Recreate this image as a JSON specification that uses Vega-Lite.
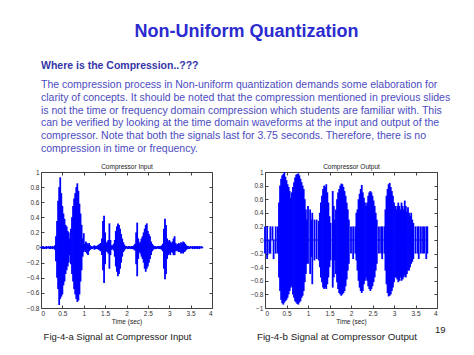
{
  "$schema": "https://vega.github.io/schema/vega-lite/v6.json",
  "background": "white",
  "padding": {"left": 26, "top": 22, "right": 0, "bottom": 0},
  "config": {
    "font": "Liberation Sans",
    "view": {"stroke": null},
    "axis": {
      "grid": false,
      "domainColor": "#404040",
      "tickColor": "#404040",
      "tickSize": -3,
      "labelPadding": 5,
      "labelFontSize": 6.5,
      "labelColor": "#333333",
      "labelFont": "Liberation Sans",
      "titleFontSize": 6.5,
      "titleFontWeight": "normal",
      "titleColor": "#222222",
      "titleFont": "Liberation Sans",
      "titlePadding": 2,
      "format": "~g"
    }
  },
  "title": {"text": "Non-Uniform Quantization", "fontSize": 18, "fontWeight": "bold", "color": "#2b2bd0", "anchor": "middle", "offset": 20, "dx": 7},
  "spacing": 8,
  "vconcat": [
    {
      "width": 412,
      "height": 76,
      "title": {"text": "Where is the Compression..???", "anchor": "start", "fontSize": 10.5, "fontWeight": "bold", "color": "#3535a8", "offset": 8},
      "data": {"values": [
        {"line": 1, "text": "The compression process in Non-uniform quantization demands some elaboration for"},
        {"line": 2, "text": "clarity of concepts. It should be noted that the compression mentioned in previous slides"},
        {"line": 3, "text": "is not the time or frequency domain compression which students are familiar with. This"},
        {"line": 4, "text": "can be verified by looking at the time domain waveforms at the input and output of the"},
        {"line": 5, "text": "compressor. Note that both the signals last for 3.75 seconds. Therefore, there is no"},
        {"line": 6, "text": "compression in time or frequency."}
      ]},
      "mark": {"type": "text", "align": "left", "baseline": "middle", "fontSize": 10.5, "color": "#4b4bc0"},
      "encoding": {
        "y": {"field": "line", "type": "ordinal", "axis": null},
        "x": {"datum": 0, "type": "quantitative", "scale": {"domain": [0, 1]}, "axis": null},
        "text": {"field": "text", "type": "nominal"}
      }
    },
    {
      "spacing": 37,
      "title": {"text": "19", "orient": "bottom", "anchor": "end", "fontSize": 9.5, "fontWeight": "normal", "color": "#222222", "offset": -17, "dx": 8},
      "hconcat": [
        {
          "width": 171,
          "height": 136,
          "title": {"text": "Fig-4-a Signal at Compressor Input", "orient": "bottom", "anchor": "middle", "fontSize": 9.5, "fontWeight": "normal", "color": "#222222", "offset": 7, "dx": -9},
          "data": {"values": [
            {"t":0.000,"hi":0.01,"lo":-0.01},{"t":0.025,"hi":0.01,"lo":-0.01},{"t":0.050,"hi":0.02,"lo":-0.01},{"t":0.075,"hi":0.01,"lo":-0.02},
            {"t":0.100,"hi":0.01,"lo":-0.01},{"t":0.125,"hi":0.02,"lo":-0.02},{"t":0.150,"hi":0.01,"lo":-0.01},{"t":0.175,"hi":0.02,"lo":-0.01},
            {"t":0.200,"hi":0.01,"lo":-0.02},{"t":0.225,"hi":0.02,"lo":-0.02},{"t":0.250,"hi":0.01,"lo":-0.01},{"t":0.275,"hi":0.02,"lo":-0.02},
            {"t":0.300,"hi":0.01,"lo":-0.01},{"t":0.325,"hi":0.03,"lo":-0.03},{"t":0.350,"hi":0.15,"lo":-0.18},{"t":0.375,"hi":0.35,"lo":-0.40},
            {"t":0.400,"hi":0.62,"lo":-0.55},{"t":0.425,"hi":0.80,"lo":-0.76},{"t":0.450,"hi":0.93,"lo":-0.68},{"t":0.475,"hi":0.72,"lo":-0.65},
            {"t":0.500,"hi":0.55,"lo":-0.62},{"t":0.525,"hi":0.45,"lo":-0.50},{"t":0.550,"hi":0.38,"lo":-0.45},{"t":0.575,"hi":0.30,"lo":-0.35},
            {"t":0.600,"hi":0.28,"lo":-0.30},{"t":0.625,"hi":0.22,"lo":-0.25},{"t":0.650,"hi":0.20,"lo":-0.20},{"t":0.675,"hi":0.12,"lo":-0.10},
            {"t":0.700,"hi":0.25,"lo":-0.22},{"t":0.725,"hi":0.40,"lo":-0.35},{"t":0.750,"hi":0.55,"lo":-0.45},{"t":0.775,"hi":0.65,"lo":-0.55},
            {"t":0.800,"hi":0.72,"lo":-0.62},{"t":0.825,"hi":0.80,"lo":-0.68},{"t":0.850,"hi":0.85,"lo":-0.72},{"t":0.875,"hi":0.75,"lo":-0.70},
            {"t":0.900,"hi":0.58,"lo":-0.62},{"t":0.925,"hi":0.45,"lo":-0.45},{"t":0.950,"hi":0.30,"lo":-0.30},{"t":0.975,"hi":0.12,"lo":-0.12},
            {"t":1.000,"hi":0.19,"lo":-0.06},{"t":1.025,"hi":0.05,"lo":-0.04},{"t":1.050,"hi":0.08,"lo":-0.06},{"t":1.075,"hi":0.06,"lo":-0.08},
            {"t":1.100,"hi":0.04,"lo":-0.10},{"t":1.125,"hi":0.06,"lo":-0.05},{"t":1.150,"hi":0.03,"lo":-0.03},{"t":1.175,"hi":0.02,"lo":-0.02},
            {"t":1.200,"hi":0.01,"lo":-0.02},{"t":1.225,"hi":0.02,"lo":-0.01},{"t":1.250,"hi":0.03,"lo":-0.03},{"t":1.275,"hi":0.02,"lo":-0.02},
            {"t":1.300,"hi":0.02,"lo":-0.02},{"t":1.325,"hi":0.03,"lo":-0.02},{"t":1.350,"hi":0.04,"lo":-0.03},{"t":1.375,"hi":0.05,"lo":-0.04},
            {"t":1.400,"hi":0.06,"lo":-0.05},{"t":1.425,"hi":0.12,"lo":-0.10},{"t":1.450,"hi":0.35,"lo":-0.30},{"t":1.475,"hi":0.42,"lo":-0.47},
            {"t":1.500,"hi":0.20,"lo":-0.22},{"t":1.525,"hi":0.06,"lo":-0.05},{"t":1.550,"hi":0.08,"lo":-0.06},{"t":1.575,"hi":0.10,"lo":-0.08},
            {"t":1.600,"hi":0.32,"lo":-0.28},{"t":1.625,"hi":0.10,"lo":-0.10},{"t":1.650,"hi":0.03,"lo":-0.03},{"t":1.675,"hi":0.03,"lo":-0.02},
            {"t":1.700,"hi":0.05,"lo":-0.04},{"t":1.725,"hi":0.10,"lo":-0.12},{"t":1.750,"hi":0.22,"lo":-0.25},{"t":1.775,"hi":0.28,"lo":-0.32},
            {"t":1.800,"hi":0.32,"lo":-0.38},{"t":1.825,"hi":0.30,"lo":-0.35},{"t":1.850,"hi":0.25,"lo":-0.28},{"t":1.875,"hi":0.18,"lo":-0.20},
            {"t":1.900,"hi":0.12,"lo":-0.12},{"t":1.925,"hi":0.07,"lo":-0.06},{"t":1.950,"hi":0.04,"lo":-0.04},{"t":1.975,"hi":0.02,"lo":-0.02},
            {"t":2.000,"hi":0.02,"lo":-0.01},{"t":2.025,"hi":0.01,"lo":-0.02},{"t":2.050,"hi":0.02,"lo":-0.02},{"t":2.075,"hi":0.02,"lo":-0.01},
            {"t":2.100,"hi":0.01,"lo":-0.02},{"t":2.125,"hi":0.02,"lo":-0.02},{"t":2.150,"hi":0.02,"lo":-0.02},{"t":2.175,"hi":0.03,"lo":-0.03},
            {"t":2.200,"hi":0.05,"lo":-0.04},{"t":2.225,"hi":0.20,"lo":-0.22},{"t":2.250,"hi":0.33,"lo":-0.38},{"t":2.275,"hi":0.12,"lo":-0.15},
            {"t":2.300,"hi":0.06,"lo":-0.06},{"t":2.325,"hi":0.08,"lo":-0.08},{"t":2.350,"hi":0.12,"lo":-0.12},{"t":2.375,"hi":0.15,"lo":-0.15},
            {"t":2.400,"hi":0.20,"lo":-0.20},{"t":2.425,"hi":0.25,"lo":-0.28},{"t":2.450,"hi":0.30,"lo":-0.32},{"t":2.475,"hi":0.32,"lo":-0.28},
            {"t":2.500,"hi":0.22,"lo":-0.25},{"t":2.525,"hi":0.18,"lo":-0.20},{"t":2.550,"hi":0.15,"lo":-0.15},{"t":2.575,"hi":0.08,"lo":-0.10},
            {"t":2.600,"hi":0.05,"lo":-0.05},{"t":2.625,"hi":0.03,"lo":-0.03},{"t":2.650,"hi":0.02,"lo":-0.02},{"t":2.675,"hi":0.02,"lo":-0.02},
            {"t":2.700,"hi":0.01,"lo":-0.02},{"t":2.725,"hi":0.02,"lo":-0.01},{"t":2.750,"hi":0.02,"lo":-0.02},{"t":2.775,"hi":0.02,"lo":-0.02},
            {"t":2.800,"hi":0.02,"lo":-0.02},{"t":2.825,"hi":0.03,"lo":-0.03},{"t":2.850,"hi":0.05,"lo":-0.05},{"t":2.875,"hi":0.25,"lo":-0.28},
            {"t":2.900,"hi":0.38,"lo":-0.42},{"t":2.925,"hi":0.30,"lo":-0.35},{"t":2.950,"hi":0.12,"lo":-0.15},{"t":2.975,"hi":0.08,"lo":-0.10},
            {"t":3.000,"hi":0.10,"lo":-0.08},{"t":3.025,"hi":0.08,"lo":-0.10},{"t":3.050,"hi":0.06,"lo":-0.06},{"t":3.075,"hi":0.08,"lo":-0.07},
            {"t":3.100,"hi":0.12,"lo":-0.10},{"t":3.125,"hi":0.15,"lo":-0.10},{"t":3.150,"hi":0.06,"lo":-0.05},{"t":3.175,"hi":0.04,"lo":-0.04},
            {"t":3.200,"hi":0.05,"lo":-0.05},{"t":3.225,"hi":0.06,"lo":-0.06},{"t":3.250,"hi":0.05,"lo":-0.06},{"t":3.275,"hi":0.07,"lo":-0.08},
            {"t":3.300,"hi":0.06,"lo":-0.07},{"t":3.325,"hi":0.08,"lo":-0.08},{"t":3.350,"hi":0.07,"lo":-0.06},{"t":3.375,"hi":0.05,"lo":-0.05},
            {"t":3.400,"hi":0.03,"lo":-0.03},{"t":3.425,"hi":0.02,"lo":-0.02},{"t":3.450,"hi":0.02,"lo":-0.02},{"t":3.475,"hi":0.01,"lo":-0.02},
            {"t":3.500,"hi":0.02,"lo":-0.01},{"t":3.525,"hi":0.01,"lo":-0.01},{"t":3.550,"hi":0.02,"lo":-0.02},{"t":3.575,"hi":0.01,"lo":-0.01},
            {"t":3.600,"hi":0.02,"lo":-0.02},{"t":3.625,"hi":0.01,"lo":-0.01},{"t":3.650,"hi":0.02,"lo":-0.02},{"t":3.675,"hi":0.01,"lo":-0.01},
            {"t":3.700,"hi":0.02,"lo":-0.02},{"t":3.725,"hi":0.01,"lo":-0.01},{"t":3.750,"hi":0.02,"lo":-0.01},{"t":3.775,"hi":0.01,"lo":-0.01}
          ]},
          "layer": [
            {
              "mark": {"type": "rule", "color": "#0000ff", "strokeWidth": 1.8},
              "encoding": {
                "x": {"field": "t", "type": "quantitative", "scale": {"domain": [0, 4], "nice": false, "zero": false},
                      "axis": {"orient": "bottom", "title": "Time  (sec)", "values": [0, 0.5, 1, 1.5, 2, 2.5, 3, 3.5, 4]}},
                "y": {"field": "hi", "type": "quantitative", "scale": {"domain": [-0.8, 1], "nice": false},
                      "axis": {"orient": "left", "title": null, "values": [-0.8, -0.6, -0.4, -0.2, 0, 0.2, 0.4, 0.6, 0.8, 1]}},
                "y2": {"field": "lo"}
              }
            },
            {
              "mark": {"type": "rule", "color": "#0000ff", "strokeWidth": 1},
              "encoding": {
                "x": {"aggregate": "min", "field": "t", "type": "quantitative", "scale": {"domain": [0, 4], "nice": false, "zero": false},
                      "axis": {"orient": "top", "labels": false, "title": "Compressor Input", "values": [0, 0.5, 1, 1.5, 2, 2.5, 3, 3.5, 4]}},
                "x2": {"aggregate": "max", "field": "t"},
                "y": {"datum": 0, "type": "quantitative", "scale": {"domain": [-0.8, 1], "nice": false},
                      "axis": {"orient": "right", "labels": false, "title": null, "values": [-0.8, -0.6, -0.4, -0.2, 0, 0.2, 0.4, 0.6, 0.8, 1]}}
              }
            }
          ],
          "resolve": {"axis": {"x": "independent", "y": "independent"}}
        },
        {
          "width": 172,
          "height": 136,
          "title": {"text": "Fig-4-b Signal at Compressor Output", "orient": "bottom", "anchor": "middle", "fontSize": 9.8, "fontWeight": "normal", "color": "#222222", "offset": 7, "dx": -14},
          "data": {"values": [
            {"t":0.000,"hi":0.2,"lo":-0.2},{"t":0.050,"hi":0.2,"lo":-0.28},{"t":0.100,"hi":0.0,"lo":-0.2},{"t":0.125,"hi":0.2,"lo":-0.2},
            {"t":0.175,"hi":0.2,"lo":0.0},{"t":0.200,"hi":0.0,"lo":-0.28},{"t":0.250,"hi":0.2,"lo":-0.2},{"t":0.300,"hi":0.2,"lo":-0.2},
            {"t":0.325,"hi":0.55,"lo":-0.55},{"t":0.350,"hi":0.80,"lo":-0.75},{"t":0.375,"hi":0.90,"lo":-0.88},{"t":0.400,"hi":0.95,"lo":-0.93},
            {"t":0.425,"hi":0.97,"lo":-0.95},{"t":0.450,"hi":1.00,"lo":-0.92},{"t":0.475,"hi":0.93,"lo":-0.90},{"t":0.500,"hi":0.88,"lo":-0.88},
            {"t":0.525,"hi":0.82,"lo":-0.85},{"t":0.550,"hi":0.78,"lo":-0.80},{"t":0.575,"hi":0.72,"lo":-0.75},{"t":0.600,"hi":0.62,"lo":-0.70},
            {"t":0.625,"hi":0.70,"lo":-0.68},{"t":0.650,"hi":0.78,"lo":-0.80},{"t":0.675,"hi":0.85,"lo":-0.85},{"t":0.700,"hi":0.92,"lo":-0.90},
            {"t":0.725,"hi":0.96,"lo":-0.92},{"t":0.750,"hi":0.97,"lo":-0.94},{"t":0.775,"hi":0.98,"lo":-0.95},{"t":0.800,"hi":0.95,"lo":-0.92},
            {"t":0.825,"hi":0.90,"lo":-0.90},{"t":0.850,"hi":0.85,"lo":-0.85},{"t":0.875,"hi":0.80,"lo":-0.82},{"t":0.900,"hi":0.75,"lo":-0.75},
            {"t":0.925,"hi":0.60,"lo":-0.62},{"t":0.950,"hi":0.45,"lo":-0.50},{"t":0.975,"hi":0.30,"lo":-0.35},
            {"t":1.000,"hi":0.50,"lo":-0.35},{"t":1.050,"hi":0.45,"lo":-0.50},{"t":1.075,"hi":0.30,"lo":-0.25},{"t":1.100,"hi":0.40,"lo":-0.65},
            {"t":1.150,"hi":0.30,"lo":-0.30},{"t":1.200,"hi":0.30,"lo":-0.28},{"t":1.250,"hi":0.28,"lo":-0.30},
            {"t":1.275,"hi":0.40,"lo":-0.40},{"t":1.300,"hi":0.55,"lo":-0.55},{"t":1.325,"hi":0.65,"lo":-0.62},{"t":1.350,"hi":0.75,"lo":-0.70},
            {"t":1.375,"hi":0.80,"lo":-0.72},{"t":1.400,"hi":0.78,"lo":-0.70},{"t":1.425,"hi":0.82,"lo":-0.72},{"t":1.450,"hi":0.70,"lo":-0.65},
            {"t":1.475,"hi":0.55,"lo":-0.55},{"t":1.500,"hi":0.35,"lo":-0.40},
            {"t":1.525,"hi":0.25,"lo":-0.30},{"t":1.575,"hi":0.72,"lo":-0.70},{"t":1.600,"hi":0.50,"lo":-0.55},{"t":1.625,"hi":0.30,"lo":-0.30},
            {"t":1.650,"hi":0.45,"lo":-0.50},{"t":1.675,"hi":0.60,"lo":-0.62},{"t":1.700,"hi":0.70,"lo":-0.72},{"t":1.725,"hi":0.75,"lo":-0.78},
            {"t":1.750,"hi":0.80,"lo":-0.80},{"t":1.775,"hi":0.83,"lo":-0.82},{"t":1.800,"hi":0.82,"lo":-0.80},{"t":1.825,"hi":0.78,"lo":-0.78},
            {"t":1.850,"hi":0.72,"lo":-0.75},{"t":1.875,"hi":0.65,"lo":-0.68},{"t":1.900,"hi":0.55,"lo":-0.58},{"t":1.925,"hi":0.45,"lo":-0.45},
            {"t":1.950,"hi":0.30,"lo":-0.35},
            {"t":2.000,"hi":0.2,"lo":-0.2},{"t":2.050,"hi":0.2,"lo":-0.28},{"t":2.100,"hi":0.2,"lo":-0.2},{"t":2.125,"hi":0.4,"lo":-0.3},
            {"t":2.150,"hi":0.45,"lo":-0.45},{"t":2.175,"hi":0.60,"lo":-0.60},{"t":2.200,"hi":0.68,"lo":-0.70},{"t":2.225,"hi":0.75,"lo":-0.75},
            {"t":2.250,"hi":0.81,"lo":-0.78},{"t":2.275,"hi":0.70,"lo":-0.75},{"t":2.300,"hi":0.62,"lo":-0.65},{"t":2.325,"hi":0.55,"lo":-0.60},
            {"t":2.350,"hi":0.50,"lo":-0.55},{"t":2.375,"hi":0.55,"lo":-0.60},{"t":2.400,"hi":0.65,"lo":-0.68},{"t":2.425,"hi":0.70,"lo":-0.72},
            {"t":2.450,"hi":0.72,"lo":-0.75},{"t":2.475,"hi":0.70,"lo":-0.72},{"t":2.500,"hi":0.65,"lo":-0.68},{"t":2.525,"hi":0.58,"lo":-0.62},
            {"t":2.550,"hi":0.50,"lo":-0.55},{"t":2.575,"hi":0.40,"lo":-0.45},{"t":2.600,"hi":0.30,"lo":-0.35},
            {"t":2.650,"hi":0.2,"lo":-0.2},{"t":2.700,"hi":0.2,"lo":-0.2},{"t":2.725,"hi":0.2,"lo":-0.28},{"t":2.775,"hi":0.2,"lo":-0.2},
            {"t":2.800,"hi":0.45,"lo":-0.45},{"t":2.825,"hi":0.65,"lo":-0.65},{"t":2.850,"hi":0.75,"lo":-0.78},{"t":2.875,"hi":0.82,"lo":-0.83},
            {"t":2.900,"hi":0.84,"lo":-0.82},{"t":2.925,"hi":0.78,"lo":-0.80},{"t":2.950,"hi":0.72,"lo":-0.75},{"t":2.975,"hi":0.65,"lo":-0.70},
            {"t":3.000,"hi":0.55,"lo":-0.62},{"t":3.025,"hi":0.50,"lo":-0.55},{"t":3.050,"hi":0.45,"lo":-0.55},{"t":3.075,"hi":0.50,"lo":-0.58},
            {"t":3.100,"hi":0.55,"lo":-0.62},{"t":3.125,"hi":0.50,"lo":-0.60},{"t":3.150,"hi":0.45,"lo":-0.55},{"t":3.175,"hi":0.55,"lo":-0.60},
            {"t":3.200,"hi":0.50,"lo":-0.58},{"t":3.225,"hi":0.45,"lo":-0.55},{"t":3.250,"hi":0.58,"lo":-0.52},{"t":3.275,"hi":0.50,"lo":-0.55},
            {"t":3.300,"hi":0.42,"lo":-0.50},{"t":3.325,"hi":0.48,"lo":-0.45},{"t":3.350,"hi":0.40,"lo":-0.45},{"t":3.375,"hi":0.35,"lo":-0.40},
            {"t":3.400,"hi":0.40,"lo":-0.35},{"t":3.425,"hi":0.30,"lo":-0.32},{"t":3.450,"hi":0.25,"lo":-0.28},
            {"t":3.500,"hi":0.2,"lo":-0.2},{"t":3.550,"hi":0.2,"lo":-0.2},{"t":3.575,"hi":0.2,"lo":-0.28},{"t":3.625,"hi":0.2,"lo":-0.2},
            {"t":3.675,"hi":0.2,"lo":-0.2},{"t":3.700,"hi":0.2,"lo":-0.2},{"t":3.750,"hi":0.2,"lo":-0.28},{"t":3.775,"hi":0.2,"lo":-0.2}
          ]},
          "layer": [
            {
              "mark": {"type": "rule", "color": "#0000ff", "strokeWidth": 1.8},
              "encoding": {
                "x": {"field": "t", "type": "quantitative", "scale": {"domain": [0, 4], "nice": false, "zero": false},
                      "axis": {"orient": "bottom", "title": "Time  (sec)", "values": [0, 0.5, 1, 1.5, 2, 2.5, 3, 3.5, 4]}},
                "y": {"field": "hi", "type": "quantitative", "scale": {"domain": [-1, 1], "nice": false},
                      "axis": {"orient": "left", "title": null, "values": [-1, -0.8, -0.6, -0.4, -0.2, 0, 0.2, 0.4, 0.6, 0.8, 1]}},
                "y2": {"field": "lo"}
              }
            },
            {
              "mark": {"type": "rule", "color": "#0000ff", "strokeWidth": 1},
              "encoding": {
                "x": {"aggregate": "min", "field": "t", "type": "quantitative", "scale": {"domain": [0, 4], "nice": false, "zero": false},
                      "axis": {"orient": "top", "labels": false, "title": "Compressor Output", "values": [0, 0.5, 1, 1.5, 2, 2.5, 3, 3.5, 4]}},
                "x2": {"aggregate": "max", "field": "t"},
                "y": {"datum": 0, "type": "quantitative", "scale": {"domain": [-1, 1], "nice": false},
                      "axis": {"orient": "right", "labels": false, "title": null, "values": [-1, -0.8, -0.6, -0.4, -0.2, 0, 0.2, 0.4, 0.6, 0.8, 1]}}
              }
            }
          ],
          "resolve": {"axis": {"x": "independent", "y": "independent"}}
        }
      ]
    }
  ]
}
